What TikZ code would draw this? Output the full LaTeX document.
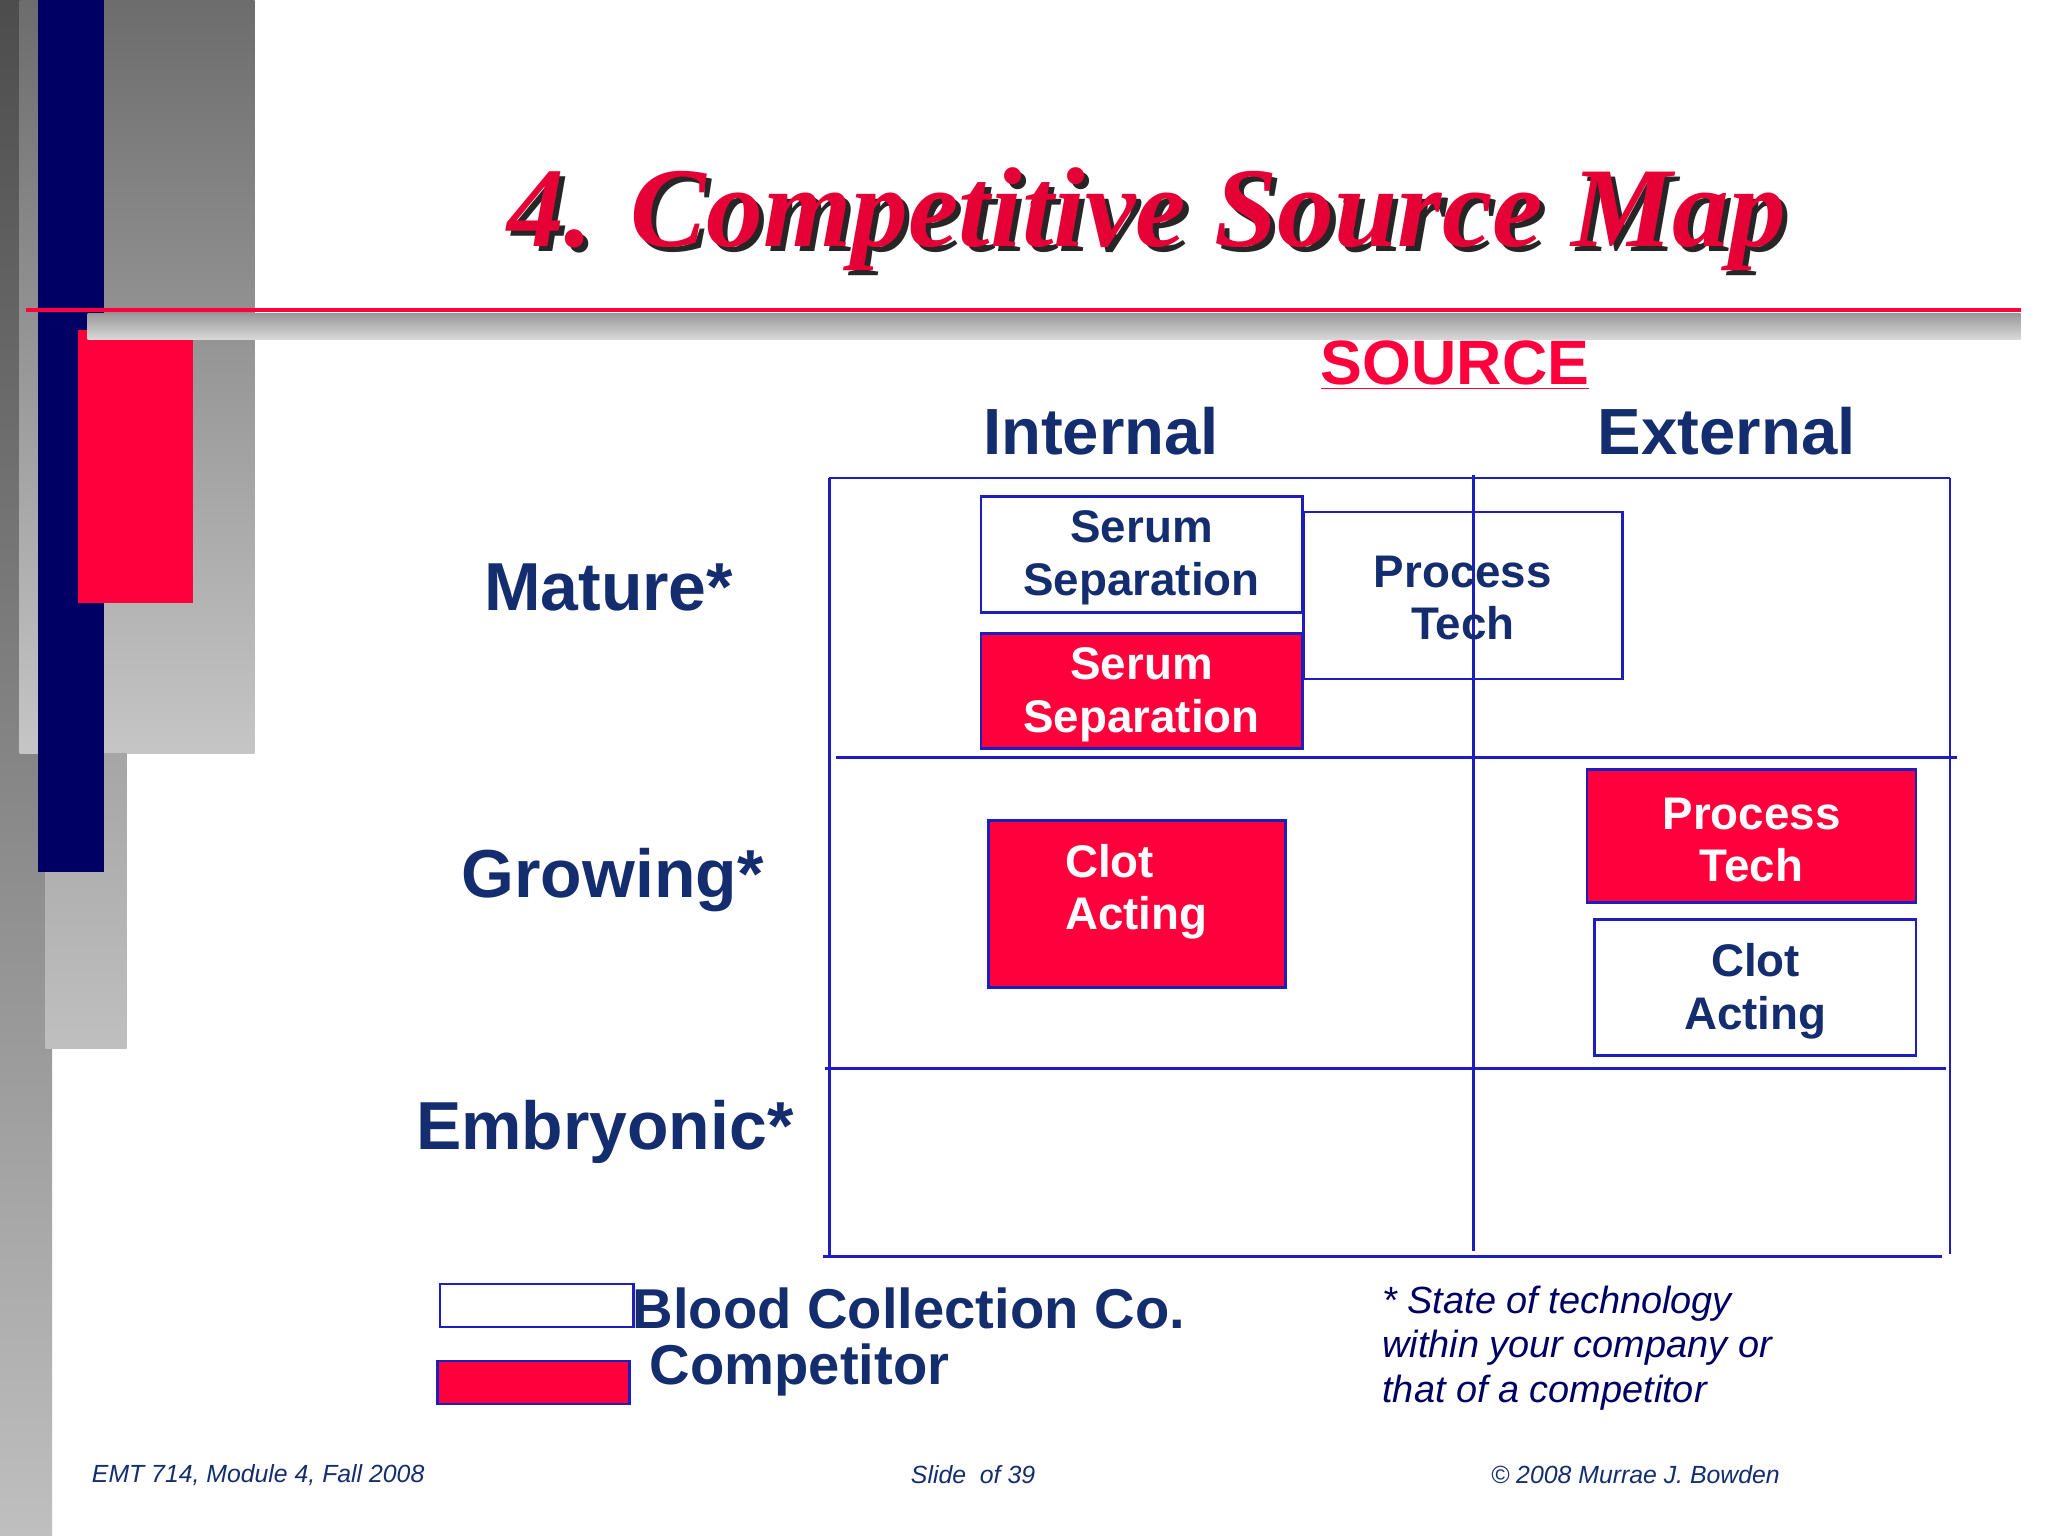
\documentclass[tikz,border=0pt]{standalone}
\usepackage{fontspec}
\setmainfont{Liberation Sans}
\newfontfamily\titlefont{Liberation Serif}
\definecolor{navy}{RGB}{0,0,100}
\definecolor{tblue}{RGB}{20,45,110}
\definecolor{gline}{RGB}{30,30,190}
\definecolor{sred}{RGB}{255,0,60}
\begin{document}
\begin{tikzpicture}[x=0.5pt,y=-0.5pt,
  wbox/.style={draw=gline,line width=1pt,fill=white},
  rbox/.style={draw=gline,line width=1pt,fill=sred},
  gl/.style={draw=gline,line width=1pt},
  btxt/.style={font=\fontsize{17.5}{20}\selectfont\bfseries,align=center,text=tblue},
  wtxt/.style={font=\fontsize{17.5}{20}\selectfont\bfseries,align=center,text=white},
  rowl/.style={font=\fontsize{26}{30}\selectfont\bfseries,text=tblue},
  foot/.style={font=\fontsize{9.5}{12}\selectfont\itshape,text=tblue}]
\useasboundingbox (0,0) rectangle (1568,1176);
\fill[white] (0,0) rectangle (1568,1176);
% left decoration
\shade[top color=gray!60!black,bottom color=gray!50] (0,0) rectangle (40,1176);
\shade[top color=gray!85!black,bottom color=gray!45] (15,0) rectangle (195,577);
\shade[top color=gray!70,bottom color=gray!50] (35,577) rectangle (97,803);
\fill[navy] (29,0) rectangle (80,668);
\fill[sred] (60,253) rectangle (148,462);
\shade[top color=gray!80,bottom color=gray!30] (67,240) rectangle (1547,260);
\draw[sred,line width=1.5pt] (20,237) -- (1547,237);
% title
\node[font=\titlefont\fontsize{43.5}{48}\selectfont\bfseries\itshape,text=black!85] at (882,172) {4. Competitive Source Map};
\node[font=\titlefont\fontsize{43.5}{48}\selectfont\bfseries\itshape,text=sred!90!black] (title) at (878,168) {4. Competitive Source Map};
% headers
\node[font=\fontsize{24}{26}\selectfont\bfseries,text=sred] (src) at (1114,280) {\underline{SOURCE}};
\node[font=\fontsize{25}{28}\selectfont\bfseries,text=tblue] (int) at (843,330) {Internal};
\node[font=\fontsize{25}{28}\selectfont\bfseries,text=tblue] (ext) at (1322,330) {External};
% grid
\draw[gl] (635,366) -- (1493,366);
\draw[gl] (635,366) -- (635,962);
\draw[gl] (1128,364) -- (1128,958);
\draw[gl] (1493,366) -- (1493,960);
\draw[gl] (640,580) -- (1498,580);
\draw[gl] (632,818) -- (1490,818);
\draw[gl] (630,962) -- (1487,962);
% boxes
\draw[wbox] (751,380) rectangle (997,469);
\node[btxt] (ss1) at (874,427) {Serum\\Separation};
\draw[rbox] (751,485) rectangle (997,573);
\node[wtxt] (ss2) at (874,532) {Serum\\Separation};
\draw[gl] (998,392) rectangle (1242,520);
\node[btxt] (pt1) at (1120,458) {Process\\Tech};
\draw[rbox] (757,628) rectangle (984,756);
\node[wtxt,align=left] (ca1) at (870,683) {Clot\\ Acting};
\draw[rbox] (1215,589) rectangle (1467,691);
\node[wtxt] (pt2) at (1341,643) {Process\\Tech};
\draw[wbox] (1221,704) rectangle (1467,808);
\node[btxt] (ca2) at (1344,759) {Clot\\Acting};
% row labels
\node[rowl] (m) at (466,450) {Mature*};
\node[rowl] (g) at (469,674) {Growing*};
\node[rowl] (e) at (463,867) {Embryonic*};
% legend
\draw[wbox] (337,983) rectangle (485,1016);
\draw[rbox] (335,1042) rectangle (482,1075);
\node[font=\fontsize{21.5}{24}\selectfont\bfseries,text=tblue,anchor=west,inner sep=0] (l1) at (484,1002) {Blood Collection Co.};
\node[font=\fontsize{21.5}{24}\selectfont\bfseries,text=tblue,anchor=west,inner sep=0] (l2) at (497,1049) {Competitor};
\node[font=\fontsize{14.5}{17}\selectfont\itshape,text=navy,anchor=north west,align=left,inner sep=0] (note) at (1058,984) {* State of technology\\within your company or\\that of a competitor};
% footer
\node[foot,anchor=west,inner sep=0] (f1) at (70,1129) {EMT 714, Module 4, Fall 2008};
\node[foot] (f2) at (745,1129) {Slide\ \ of 39};
\node[foot,anchor=east,inner sep=0] (f3) at (1363,1129) {© 2008 Murrae J. Bowden};
\end{tikzpicture}
\end{document}
